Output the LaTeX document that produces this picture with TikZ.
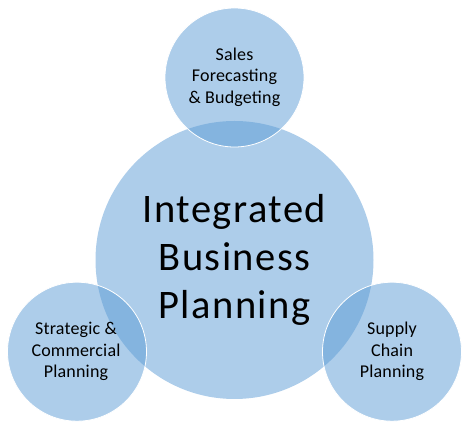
\documentclass[tikz,border=0pt]{standalone}
\usepackage{fontspec}
\setmainfont{Carlito}
\definecolor{ibpblue}{HTML}{5B9BD5}
\definecolor{ibptext}{HTML}{000000}
\begin{document}
\begin{tikzpicture}[x=1pt,y=-1pt,
  bubble/.style={circle,fill=ibpblue,fill opacity=0.5,inner sep=0pt},
  smallbubble/.style={bubble,draw=white,line width=0.8pt,minimum size=139pt},
  bigbubble/.style={bubble,minimum size=278pt},
  smalltext/.style={align=center,inner sep=0pt,text=ibptext,font=\fontsize{18}{21.5}\selectfont\addfontfeature{LetterSpace=1}},
  bigtext/.style={align=center,inner sep=0pt,text=ibptext,font=\fontsize{40.5}{48}\selectfont\addfontfeature{LetterSpace=3.5}}]
\useasboundingbox (0,0) rectangle (472,430);
\node[bigbubble] (ibp) at (234.5,260) {};
\node[smallbubble] (sales) at (234.5,77.5) {};
\node[smallbubble] (strat) at (77,351.7) {};
\node[smallbubble] (supply) at (392,351.7) {};
\node[bigtext] (ibptxt) at (234.5,260) {Integrated\\Business\\Planning};
\node[smalltext] (salestxt) at (234.5,77) {Sales\\Forecasting\\\& Budgeting};
\node[smalltext] (strattxt) at (76,351.5) {Strategic \&\\Commercial\\Planning};
\node[smalltext] (supplytxt) at (392,351.5) {Supply\\Chain\\Planning};
\end{tikzpicture}
\end{document}
